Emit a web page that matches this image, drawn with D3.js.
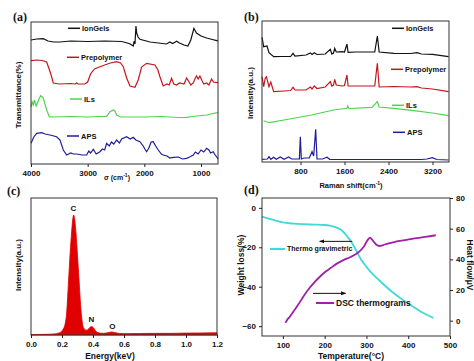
<!DOCTYPE html>
<meta charset="utf-8">
<style>
  body { margin: 0; background: #fff; }
  svg text { font-family: "Liberation Sans", Arial, sans-serif; font-weight: bold; fill: #111; }
  .tag { font-family: "Liberation Serif", "Times New Roman", serif; font-size: 12px; }
</style>

<div id="viz_area"></div>

<script src="https://d3js.org/d3.v7.min.js"></script>

<script>
    // ---------- data ----------
    // (a) FTIR: [wavenumber, transmittance a.u.]
    var irIonGels = [[4000,124],[3900,125],[3783,125.3],[3700,123],[3600,122],[3488,122],[3300,123],[3000,122.5],[2700,123],[2400,122.5],[2300,121],[2250,120],[2196,118],[2180,123],[2165,120],[2148,138],[2135,131],[2110,127],[2078,124.7],[1900,122],[1750,121],[1607,120],[1550,122],[1500,120.5],[1430,122.7],[1380,121],[1300,119],[1231,118],[1180,124],[1125,135.7],[1080,131],[1000,128],[900,126],[800,124.5],[720,123.3],[700,123]];
    var irPrepolymer = [[4000,103.3],[3900,104],[3800,103.5],[3724,102],[3680,95],[3640,88],[3607,81],[3500,80],[3300,80.5],[3220,80],[3194,81],[3170,80],[3050,80],[3000,82],[2950,90],[2880,95],[2783,97.3],[2700,99],[2600,101],[2489,102.3],[2420,101],[2372,97.3],[2312,86],[2254,78],[2166,76.7],[2108,84],[2048,97],[1960,100.7],[1813,99],[1760,94],[1725,87.3],[1667,78],[1600,80],[1560,79],[1520,85.7],[1480,80],[1430,79],[1380,81],[1300,80],[1254,86],[1210,82],[1180,79],[1136,81],[1100,86],[1078,88],[1050,85],[1019,88],[980,83],[950,80],[901,81],[860,79],[813,85],[780,82],[713,81.3],[700,82]];
    var irILs = [[4000,57],[3980,62],[3959,59],[3940,64],[3910,58],[3880,62],[3860,65],[3830,68.3],[3800,67],[3783,66],[3724,54],[3677,47.3],[3600,47],[3300,47.5],[3000,47],[2800,47.5],[2665,47.7],[2606,52.3],[2548,54],[2520,53],[2489,49],[2420,47],[2000,47],[1700,47.5],[1400,46.5],[1254,46.7],[1150,47.5],[1078,48],[900,49],[713,51.3],[700,51.5]];
    var irAPS = [[4000,20.7],[3950,27],[3900,30.7],[3812,31.3],[3750,30],[3665,29],[3548,27.3],[3488,24],[3430,14],[3371,9],[3300,11],[3250,10],[3194,10],[3100,9],[3018,9],[2980,13],[2950,11],[2900,14.7],[2850,10],[2783,12.3],[2740,15],[2700,14],[2665,20.7],[2620,18],[2580,22],[2540,20],[2489,24],[2440,21],[2400,25],[2313,27.3],[2250,25],[2196,26.7],[2150,24],[2078,22.3],[2020,18],[1990,15],[1960,12.3],[1920,16],[1880,22],[1843,22.3],[1800,18],[1754,14],[1700,10],[1667,9],[1600,8],[1550,6],[1490,6.7],[1400,7],[1330,5],[1254,5.7],[1200,7],[1136,9],[1100,12],[1050,10],[1000,14],[950,12],[901,15.7],[860,14],[830,11],[784,12.3],[750,9],[713,6.3],[700,5]];
    var irTicks = [4000, 3000, 2000, 1000];

    // (b) Raman: [shift, intensity a.u.]
    var ramanIonGels = [[100,124.7],[130,115.3],[191,116],[227,109.3],[312,105.3],[450,105.5],[620,105.5],[664,108.7],[700,106],[900,107],[980,109],[1010,107.5],[1050,109.3],[1100,107.5],[1250,108],[1342,112.7],[1370,108],[1400,109],[1422,113.7],[1450,110],[1560,110.3],[1600,110],[1645,118],[1665,109.7],[1800,110],[2000,110],[2150,110],[2197,126],[2230,110],[2500,108.7],[2800,108.5],[2918,109.3],[3000,108],[3200,107.7],[3492,105.3]];
    var ramanPrepolymer = [[100,85.3],[130,75.3],[160,84],[180,85.3],[227,75.3],[260,80],[312,70.3],[500,71],[620,71.5],[664,74.7],[700,72],[900,72],[980,75],[1010,73],[1050,76],[1100,73.5],[1250,75],[1342,80.3],[1370,76],[1400,77],[1422,82.7],[1450,77],[1560,76],[1600,76.5],[1645,87],[1665,76],[1800,76],[2000,76],[2150,76],[2197,98.7],[2230,75],[2500,75.5],[2800,75],[2918,75.3],[3000,74],[3200,73],[3492,70.3]];
    var ramanILs = [[130,41.3],[180,40.3],[240,39.3],[600,43],[1000,47],[1400,52],[1645,53.7],[1660,56],[1680,53.5],[2100,54.7],[2197,60.3],[2230,55],[2500,53.7],[2858,51.3],[3200,49],[3492,46.3]];
    var ramanAPS = [[100,2.7],[200,3],[227,5.3],[260,2.7],[312,4.7],[360,2.7],[432,5],[500,2.7],[585,5],[640,3],[780,3],[797,25.3],[815,3],[870,4],[960,4],[1010,10.3],[1040,6],[1076,32.7],[1100,3],[1200,3],[1282,4.7],[1330,2.7],[2000,2.5],[3000,2.5],[3100,3],[3194,4.3],[3280,2.5],[3492,2]];
    var ramanTicks = [800, 1600, 2400, 3200];

    // (c) EDS: [energy keV, intensity a.u.]
    var edsSpectrum = [[0,0.3],[0.05,0.4],[0.1,0.5],[0.15,0.8],[0.18,1.5],[0.2,3],[0.22,8],[0.23,16],[0.24,35],[0.25,55],[0.26,72],[0.27,85],[0.275,87.6],[0.28,86],[0.29,75],[0.3,58],[0.31,40],[0.32,22],[0.33,10],[0.34,5],[0.36,3.5],[0.375,5],[0.39,6.2],[0.405,5],[0.42,2.5],[0.44,1.5],[0.47,1.2],[0.5,1.8],[0.52,2.2],[0.54,1.8],[0.57,1.1],[0.62,1],[0.7,1.1],[0.8,1.2],[0.9,1.2],[1.0,1.4],[1.1,1.5],[1.2,1.6]];
    var edsPeaks = [["C",0.274,88],["N",0.39,7],["O",0.525,2.5]];
    var edsTicks = [0, 0.2, 0.4, 0.6, 0.8, 1.0, 1.2];

    // (d) TGA [T, weight %] and DSC [T, heat flow uV]
    var tgaData = [[50,-4.4],[75,-6],[100,-7.4],[125,-8],[148,-8.3],[175,-8.5],[200,-8.7],[215,-9.2],[229,-10],[238,-11],[246,-12.5],[254,-14.5],[262,-16.7],[270,-19.5],[278,-22.6],[286,-25.8],[294,-28.2],[310,-32.5],[327,-36],[347,-40],[368,-43.7],[388,-46.8],[408,-49.6],[432,-52.8],[457,-55.5],[460,-55.8]];
    var dscData = [[106,-1.5],[110,0.5],[115,2],[127,6.6],[138,11],[148,15.3],[160,20],[172,24],[186,28],[201,31.7],[215,34.5],[229,37.2],[245,39.5],[262,41.5],[275,43.5],[286,45.9],[293,48],[298,50.3],[304,53],[309,54.2],[313,53],[318,51.3],[324,49.5],[331,48.7],[340,49.3],[351,50.3],[370,51.5],[392,52.5],[415,53.6],[441,54.6],[466,55.7]];
    var tempTicks = [100, 200, 300, 400, 500];
    var weightTicks = [0, -20, -40, -60];
    var heatTicks = [0, 20, 40, 60, 80];

    var colors = {black: "#111111", red: "#c4161c", green: "#4fd34f", blue: "#1d1d9a",
                  cyan: "#3fd9d9", magenta: "#a020a8", eds: "#e00000"};

    var svg = d3.select("#viz_area").append("svg")
        .attr("width", 474).attr("height", 361);

    // little helper to style an axis group
    function styleAxis(g, size) {
        g.select(".domain").remove();
        g.selectAll(".tick line").attr("stroke", "#222");
        g.selectAll(".tick text").style("font-size", (size || 8) + "px").attr("fill", "#111");
    }

    function frame(x0, x1, y0, y1) {
        svg.append("rect").attr("x", x0).attr("y", y0)
            .attr("width", x1 - x0).attr("height", y1 - y0)
            .attr("fill", "none").attr("stroke", "#333").attr("stroke-width", 1);
    }

    function legend(x, y, name, color, fs) {
        svg.append("line").attr("x1", x).attr("x2", x + 12).attr("y1", y).attr("y2", y)
            .attr("stroke", color).attr("stroke-width", 1.5);
        svg.append("text").attr("x", x + 14).attr("y", y).attr("dy", "0.35em")
            .style("font-size", (fs || 7.5) + "px").text(name);
    }

    // ================= (a) FTIR =================
    var xa = d3.scaleLinear().domain([4000, 700]).range([31, 218]);
    var ya = d3.scaleLinear().domain([0, 142]).range([164, 22]);
    var lineA = d3.line().x(d => xa(d[0])).y(d => ya(d[1]));

    var irSeries = [[irIonGels, colors.black], [irPrepolymer, colors.red], [irILs, colors.green], [irAPS, colors.blue]];
    irSeries.forEach(function(s) {
        svg.append("path").datum(s[0]).attr("d", lineA)
            .attr("fill", "none").attr("stroke", s[1]).attr("stroke-width", 1.2);
    });
    frame(31, 218, 22, 164);
    svg.append("g").attr("transform", "translate(0,164)")
        .call(d3.axisBottom(xa).tickValues(irTicks).tickSize(3).tickPadding(3).tickFormat(d3.format("d")))
        .call(styleAxis);
    legend(68, 28.3, "IonGels", colors.black);
    legend(67, 57.3, "Prepolymer", colors.red);
    legend(70, 99, "ILs", colors.green);
    legend(67, 136, "APS", colors.blue);
    svg.append("text").attr("transform", "translate(21,95) rotate(-90)")
        .attr("text-anchor", "middle").style("font-size", "8px").text("Transmittance(%)");
    var sig = svg.append("text").attr("x", 117).attr("y", 180).attr("text-anchor", "middle")
        .style("font-size", "7px");
    sig.append("tspan").text("σ (cm");
    sig.append("tspan").attr("dy", -3).style("font-size", "5px").text("-1");
    sig.append("tspan").attr("dy", 3).text(")");
    svg.append("text").attr("class", "tag").attr("x", 13).attr("y", 21).text("(a)");

    // ================= (b) Raman =================
    var xb = d3.scaleLinear().domain([100, 3500]).range([262, 449]);
    var yb = d3.scaleLinear().domain([0, 141]).range([162, 21]);
    var lineB = d3.line().x(d => xb(d[0])).y(d => yb(d[1]));

    var ramanSeries = [[ramanIonGels, colors.black], [ramanPrepolymer, colors.red], [ramanILs, colors.green], [ramanAPS, colors.blue]];
    ramanSeries.forEach(function(s) {
        svg.append("path").datum(s[0]).attr("d", lineB)
            .attr("fill", "none").attr("stroke", s[1]).attr("stroke-width", 1.2);
    });
    frame(262, 449, 21, 162);
    svg.append("g").attr("transform", "translate(0,162)")
        .call(d3.axisBottom(xb).tickValues(ramanTicks).tickSize(3).tickPadding(3).tickFormat(d3.format("d")))
        .call(styleAxis);
    legend(392, 28.3, "IonGels", colors.black);
    legend(391, 69.3, "Prepolymer", colors.red);
    legend(392, 105.3, "ILs", colors.green);
    legend(393, 132.3, "APS", colors.blue);
    svg.append("text").attr("transform", "translate(253,93) rotate(-90)")
        .attr("text-anchor", "middle").style("font-size", "8px").text("Intensity(a.u.)");
    var ram = svg.append("text").attr("x", 351).attr("y", 188).attr("text-anchor", "middle")
        .style("font-size", "7.5px");
    ram.append("tspan").text("Raman shift(cm");
    ram.append("tspan").attr("dy", -3).style("font-size", "5px").text("-1");
    ram.append("tspan").attr("dy", 3).text(")");
    svg.append("text").attr("class", "tag").attr("x", 244).attr("y", 21).text("(b)");

    // ================= (c) EDS =================
    var xc = d3.scaleLinear().domain([0, 1.2]).range([31, 217]);
    var yc = d3.scaleLinear().domain([0, 100]).range([335, 198]);
    var areaC = d3.area().x(d => xc(d[0])).y0(yc(0)).y1(d => yc(d[1])).curve(d3.curveMonotoneX);

    svg.append("path").datum(edsSpectrum).attr("d", areaC)
        .attr("fill", colors.eds).attr("stroke", colors.eds).attr("stroke-width", 0.8);
    frame(31, 217, 198, 335);
    svg.append("g").attr("transform", "translate(0,335)")
        .call(d3.axisBottom(xc).tickValues(edsTicks).tickSize(3).tickPadding(3).tickFormat(d3.format(".1f")))
        .call(styleAxis);
    svg.selectAll(".peak").data(edsPeaks).join("text")
        .attr("x", d => xc(d[1])).attr("y", d => yc(d[2]) - 3)
        .attr("text-anchor", "middle").style("font-size", "8px").text(d => d[0]);
    svg.append("text").attr("transform", "translate(21,265) rotate(-90)")
        .attr("text-anchor", "middle").style("font-size", "8px").text("Intensity(a.u.)");
    svg.append("text").attr("x", 110).attr("y", 359).attr("text-anchor", "middle")
        .style("font-size", "8.5px").text("Energy(keV)");
    svg.append("text").attr("class", "tag").attr("x", 7).attr("y", 195).text("(c)");

    // ================= (d) TGA / DSC =================
    var xd = d3.scaleLinear().domain([50, 500]).range([262, 450]);
    var ydL = d3.scaleLinear().domain([-65, 5]).range([336, 198]);
    var ydR = d3.scaleLinear().domain([-10, 80]).range([336, 198]);

    svg.append("path").datum(tgaData)
        .attr("d", d3.line().x(d => xd(d[0])).y(d => ydL(d[1])).curve(d3.curveMonotoneX))
        .attr("fill", "none").attr("stroke", colors.cyan).attr("stroke-width", 1.8);
    svg.append("path").datum(dscData)
        .attr("d", d3.line().x(d => xd(d[0])).y(d => ydR(d[1])).curve(d3.curveMonotoneX))
        .attr("fill", "none").attr("stroke", colors.magenta).attr("stroke-width", 1.8);
    frame(262, 450, 198, 336);
    svg.append("g").attr("transform", "translate(0,336)")
        .call(d3.axisBottom(xd).tickValues(tempTicks).tickSize(3).tickPadding(3))
        .call(styleAxis);
    svg.append("g").attr("transform", "translate(262,0)")
        .call(d3.axisLeft(ydL).tickValues(weightTicks).tickSize(3).tickPadding(3))
        .call(styleAxis);
    svg.append("g").attr("transform", "translate(450,0)")
        .call(d3.axisRight(ydR).tickValues(heatTicks).tickSize(3).tickPadding(3))
        .call(styleAxis);

    // arrows
    var defs = svg.append("defs");
    defs.append("marker").attr("id", "head").attr("viewBox", "0 0 10 10")
        .attr("refX", 9).attr("refY", 5).attr("markerWidth", 5).attr("markerHeight", 5)
        .attr("orient", "auto-start-reverse")
        .append("path").attr("d", "M0,1L10,5L0,9z").attr("fill", "#111");
    svg.append("line").attr("x1", xd(266)).attr("x2", xd(188)).attr("y1", ydL(-17)).attr("y2", ydL(-17))
        .attr("stroke", "#111").attr("stroke-width", 1).attr("marker-end", "url(#head)");
    svg.append("line").attr("x1", xd(172)).attr("x2", xd(250)).attr("y1", ydR(17.8)).attr("y2", ydR(17.8))
        .attr("stroke", "#111").attr("stroke-width", 1).attr("marker-end", "url(#head)");

    svg.append("line").attr("x1", 270).attr("x2", 285).attr("y1", 249).attr("y2", 249)
        .attr("stroke", colors.cyan).attr("stroke-width", 2);
    svg.append("text").attr("x", 287).attr("y", 249).attr("dy", "0.35em")
        .style("font-size", "7px").text("Thermo gravimetric");
    svg.append("line").attr("x1", 316).attr("x2", 334).attr("y1", 303).attr("y2", 303)
        .attr("stroke", colors.magenta).attr("stroke-width", 2);
    svg.append("text").attr("x", 336).attr("y", 303).attr("dy", "0.35em")
        .style("font-size", "8.5px").text("DSC thermograms");

    svg.append("text").attr("transform", "translate(244,265) rotate(-90)")
        .attr("text-anchor", "middle").style("font-size", "8.5px").text("Weight loss(%)");
    svg.append("text").attr("transform", "translate(467,265) rotate(90)")
        .attr("text-anchor", "middle").style("font-size", "8.5px").text("Heat flow/μV");
    svg.append("text").attr("x", 351).attr("y", 359).attr("text-anchor", "middle")
        .style("font-size", "8.5px").text("Temperature(°C)");
    svg.append("text").attr("class", "tag").attr("x", 244).attr("y", 194).text("(d)");
</script>
